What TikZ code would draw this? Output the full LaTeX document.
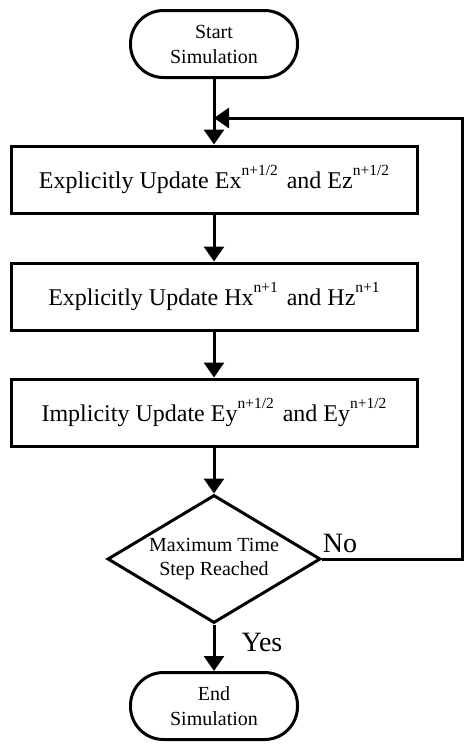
\documentclass[tikz,border=0pt]{standalone}
\usepackage{fontspec}
\setmainfont{Liberation Serif}
\usetikzlibrary{shapes.geometric,arrows.meta}
\newcommand\mysup[1]{\raisebox{13.5pt}{\fontsize{15.5}{16}\selectfont #1}}
\begin{document}
\begin{tikzpicture}[x=1pt,y=-1pt,
  line width=3pt,
  term/.style={draw,rectangle,rounded corners=33pt,minimum width=167pt,minimum height=67pt,inner sep=0pt,align=center,font=\fontsize{20}{25}\selectfont},
  procbox/.style={draw,rectangle,minimum width=406pt,minimum height=67pt,inner sep=0pt,font=\fontsize{24}{28}\selectfont},
  decide/.style={draw,diamond,aspect=1.66,minimum width=213pt,minimum height=128pt,inner sep=0pt,align=center,font=\fontsize{20}{24}\selectfont},
  lbl/.style={font=\fontsize{28}{30}\selectfont,inner sep=0pt},
  arr/.style={-{Triangle[width=20pt,length=15pt]},line width=3pt}
]
\useasboundingbox (0,0) rectangle (474,748);
\node[term] (start) at (214,44) {Start\\Simulation};
\node[procbox] (b1) at (214,179.5) {Explicitly Update Ex\mysup{n+1/2}\hspace{3pt} and Ez\mysup{n+1/2}};
\node[procbox] (b2) at (214,296.5) {Explicitly Update Hx\mysup{n+1}\hspace{3pt} and Hz\mysup{n+1}};
\node[procbox] (b3) at (214,412.5) {Implicity Update Ey\mysup{n+1/2}\hspace{3pt} and Ey\mysup{n+1/2}};
\node[decide] (dec) at (214,559) {Maximum Time\\Step Reached};
\node[term] (end) at (214,706) {End\\Simulation};
\node[lbl] (no) at (340,543) {No};
\node[lbl] (yes) at (262,642) {Yes};
\coordinate (join) at (214,118);
\coordinate (corner) at (462,118);
\draw[arr] (start.south) -- (b1.north);
\draw[arr] (b1.south) -- (b2.north);
\draw[arr] (b2.south) -- (b3.north);
\draw[arr] (b3.south) -- (dec.north);
\draw[arr] (dec.south) -- (end.north);
\draw[arr] (dec.east) -| (corner) -- (join);
\end{tikzpicture}
\end{document}
